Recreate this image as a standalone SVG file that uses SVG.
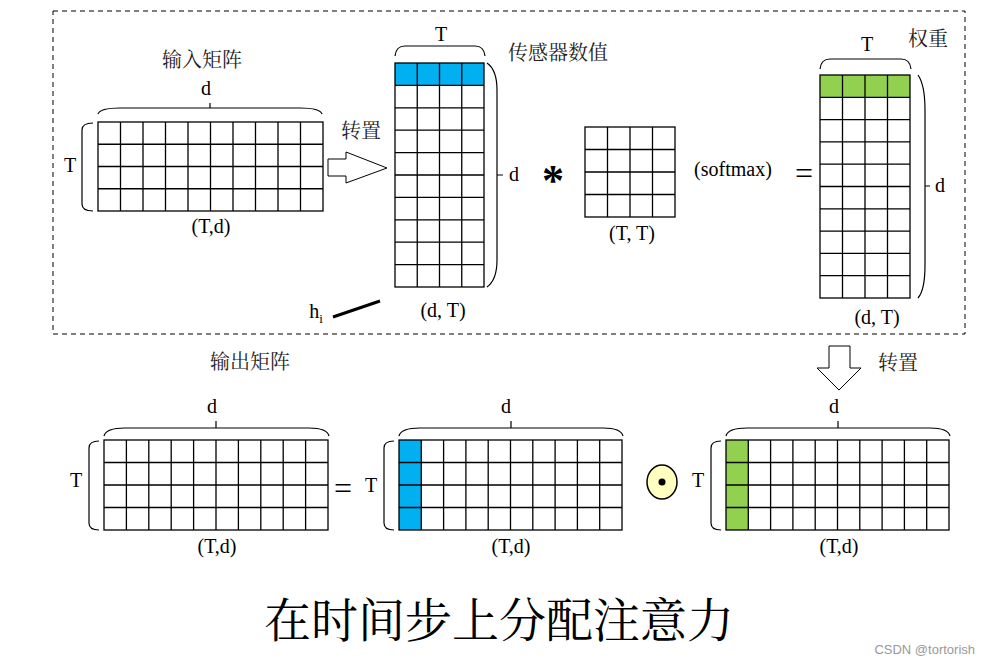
<svg xmlns="http://www.w3.org/2000/svg" width="989" height="664" viewBox="0 0 989 664">
<style>
.g{fill:none;stroke:#000;stroke-width:1.3}
.br{fill:none;stroke:#000;stroke-width:1.2}
.t{font-family:"Liberation Serif","Times New Roman","Noto Serif CJK SC","Noto Sans CJK SC",serif;font-size:20px;fill:#000;text-anchor:middle}
.c{font-family:"Liberation Serif","Noto Serif CJK SC","Noto Sans CJK SC",serif;font-size:20px;fill:#222;text-anchor:middle}
</style>
<rect x="0" y="0" width="989" height="664" fill="#fff"/>
<rect x="53" y="11" width="912" height="323" fill="none" stroke="#000" stroke-dasharray="5,4"/>

<g id="input-matrix">
<text class="c" x="202" y="67">输入矩阵</text>
<text class="t" x="206" y="95">d</text>
<path class="br" d="M98 114Q100 108 120 108H300Q320 108 322 114M210 108V103"/>
<path class="br" d="M93 123Q82 123 82 130V204Q82 211 93 211"/>
<text class="t" x="70" y="172">T</text>
<g class="g">
<rect x="98" y="122" width="225" height="89"/>
<path d="M120.5 122V211M143 122V211M165.5 122V211M188 122V211M210.5 122V211M233 122V211M255.5 122V211M278 122V211M300.5 122V211M98 144.25H323M98 166.5H323M98 188.75H323"/>
</g>
<text class="t" x="211" y="233">(T,d)</text>
</g>

<g id="transpose-arrow">
<text class="c" x="361" y="138">转置</text>
<path d="M328 159H346V152L387 168L346 183V176H328Z" fill="#fff" stroke="#000" stroke-width="1"/>
</g>

<g id="sensor-matrix">
<text class="t" x="441" y="41">T</text>
<path class="br" d="M395 56Q396 46 405 46H475Q484 46 485 56"/>
<text class="c" x="558" y="60">传感器数值</text>
<rect x="395" y="63" width="89" height="22.4" fill="#00B0F0"/>
<g class="g">
<rect x="395" y="63" width="89" height="224"/>
<path d="M417.25 63V287M439.5 63V287M461.75 63V287M395 85.4H484M395 107.8H484M395 130.2H484M395 152.6H484M395 175H484M395 197.4H484M395 219.8H484M395 242.2H484M395 264.6H484"/>
</g>
<path class="br" d="M487 63Q497 70 497 90V260Q497 280 487 287M497 175H503"/>
<text class="t" x="514" y="181">d</text>
<text class="t" x="443" y="317">(d, T)</text>
<text class="t" x="316" y="318">h<tspan style="font-size:13px" dy="5">i</tspan></text>
<path d="M333 317L380 301" stroke="#000" stroke-width="3"/>
</g>

<g id="star"><text class="t" x="553" y="195" style="font-size:44px;font-weight:bold">*</text></g>

<g id="tt-matrix">
<g class="g">
<rect x="585" y="127" width="90" height="90"/>
<path d="M607.5 127V217M630 127V217M652.5 127V217M585 149.5H675M585 172H675M585 194.5H675"/>
</g>
<text class="t" x="632" y="240">(T, T)</text>
</g>

<g id="softmax"><text class="t" x="733" y="176">(softmax)</text>
<text class="t" x="804" y="184" style="font-size:32px">=</text></g>

<g id="weight-matrix">
<text class="t" x="867" y="51">T</text>
<text class="c" x="928" y="46">权重</text>
<path class="br" d="M820 69Q821 59 830 59H901Q910 59 911 69"/>
<rect x="820" y="75" width="90" height="22.3" fill="#92D050"/>
<g class="g">
<rect x="820" y="75" width="90" height="223"/>
<path d="M842.5 75V298M865 75V298M887.5 75V298M820 97.3H910M820 119.6H910M820 141.9H910M820 164.2H910M820 186.5H910M820 208.8H910M820 231.1H910M820 253.4H910M820 275.7H910"/>
</g>
<path class="br" d="M918 75Q925 85 925 110V265Q925 290 918 298M925 186H930"/>
<text class="t" x="940" y="192">d</text>
<text class="t" x="877" y="324">(d, T)</text>
</g>

<g id="transpose-arrow-2">
<path d="M829 346H850V368H861L839 390L817 368H829Z" fill="#fff" stroke="#000" stroke-width="1"/>
<text class="c" x="898" y="370">转置</text>
</g>

<g id="output-matrix">
<text class="c" x="250" y="369">输出矩阵</text>
<text class="t" x="212" y="413">d</text>
<path class="br" d="M104 436Q106 428 125 428H309Q327 428 329 436M216 428V421"/>
<path class="br" d="M99 441Q89 441 89 448V523Q89 530 99 530"/>
<text class="t" x="76" y="487">T</text>
<g class="g">
<rect x="104" y="440" width="224" height="90"/>
<path d="M126.4 440V530M148.8 440V530M171.2 440V530M193.6 440V530M216 440V530M238.4 440V530M260.8 440V530M283.2 440V530M305.6 440V530M104 462.5H328M104 485H328M104 507.5H328"/>
</g>
<text class="t" x="217" y="553">(T,d)</text>
</g>

<g id="eq2"><text class="t" x="343" y="499" style="font-size:32px">=</text></g>

<g id="blue-matrix">
<text class="t" x="506" y="413">d</text>
<path class="br" d="M399 436Q401 428 420 428H603Q621 428 623 436M511 428V421"/>
<path class="br" d="M394 441Q384 441 384 448V523Q384 530 394 530"/>
<text class="t" x="371" y="492">T</text>
<rect x="399" y="440" width="22.3" height="90" fill="#00B0F0"/>
<g class="g">
<rect x="399" y="440" width="223" height="90"/>
<path d="M421.3 440V530M443.6 440V530M465.9 440V530M488.2 440V530M510.5 440V530M532.8 440V530M555.1 440V530M577.4 440V530M599.7 440V530M399 462.5H622M399 485H622M399 507.5H622"/>
</g>
<text class="t" x="511" y="553">(T,d)</text>
</g>

<g id="odot">
<ellipse cx="662" cy="482" rx="15" ry="17" fill="#FFFFC0" stroke="#000" stroke-width="1.5"/>
<circle cx="662" cy="482" r="3.5" fill="#000"/>
</g>

<g id="green-matrix">
<text class="t" x="834" y="413">d</text>
<path class="br" d="M726 436Q728 428 747 428H930Q948 428 950 436M838 428V421"/>
<path class="br" d="M721 441Q711 441 711 448V523Q711 530 721 530"/>
<text class="t" x="698" y="487">T</text>
<rect x="726" y="440" width="22.3" height="90" fill="#92D050"/>
<g class="g">
<rect x="726" y="440" width="223" height="90"/>
<path d="M748.3 440V530M770.6 440V530M792.9 440V530M815.2 440V530M837.5 440V530M859.8 440V530M882.1 440V530M904.4 440V530M926.7 440V530M726 462.5H949M726 485H949M726 507.5H949"/>
</g>
<text class="t" x="839" y="553">(T,d)</text>
</g>

<text class="c" x="499" y="637" style="font-size:47px;fill:#000">在时间步上分配注意力</text>
<text x="975" y="654" font-family="Liberation Sans,sans-serif" font-size="13" fill="#999" text-anchor="end">CSDN @tortorish</text>
</svg>
